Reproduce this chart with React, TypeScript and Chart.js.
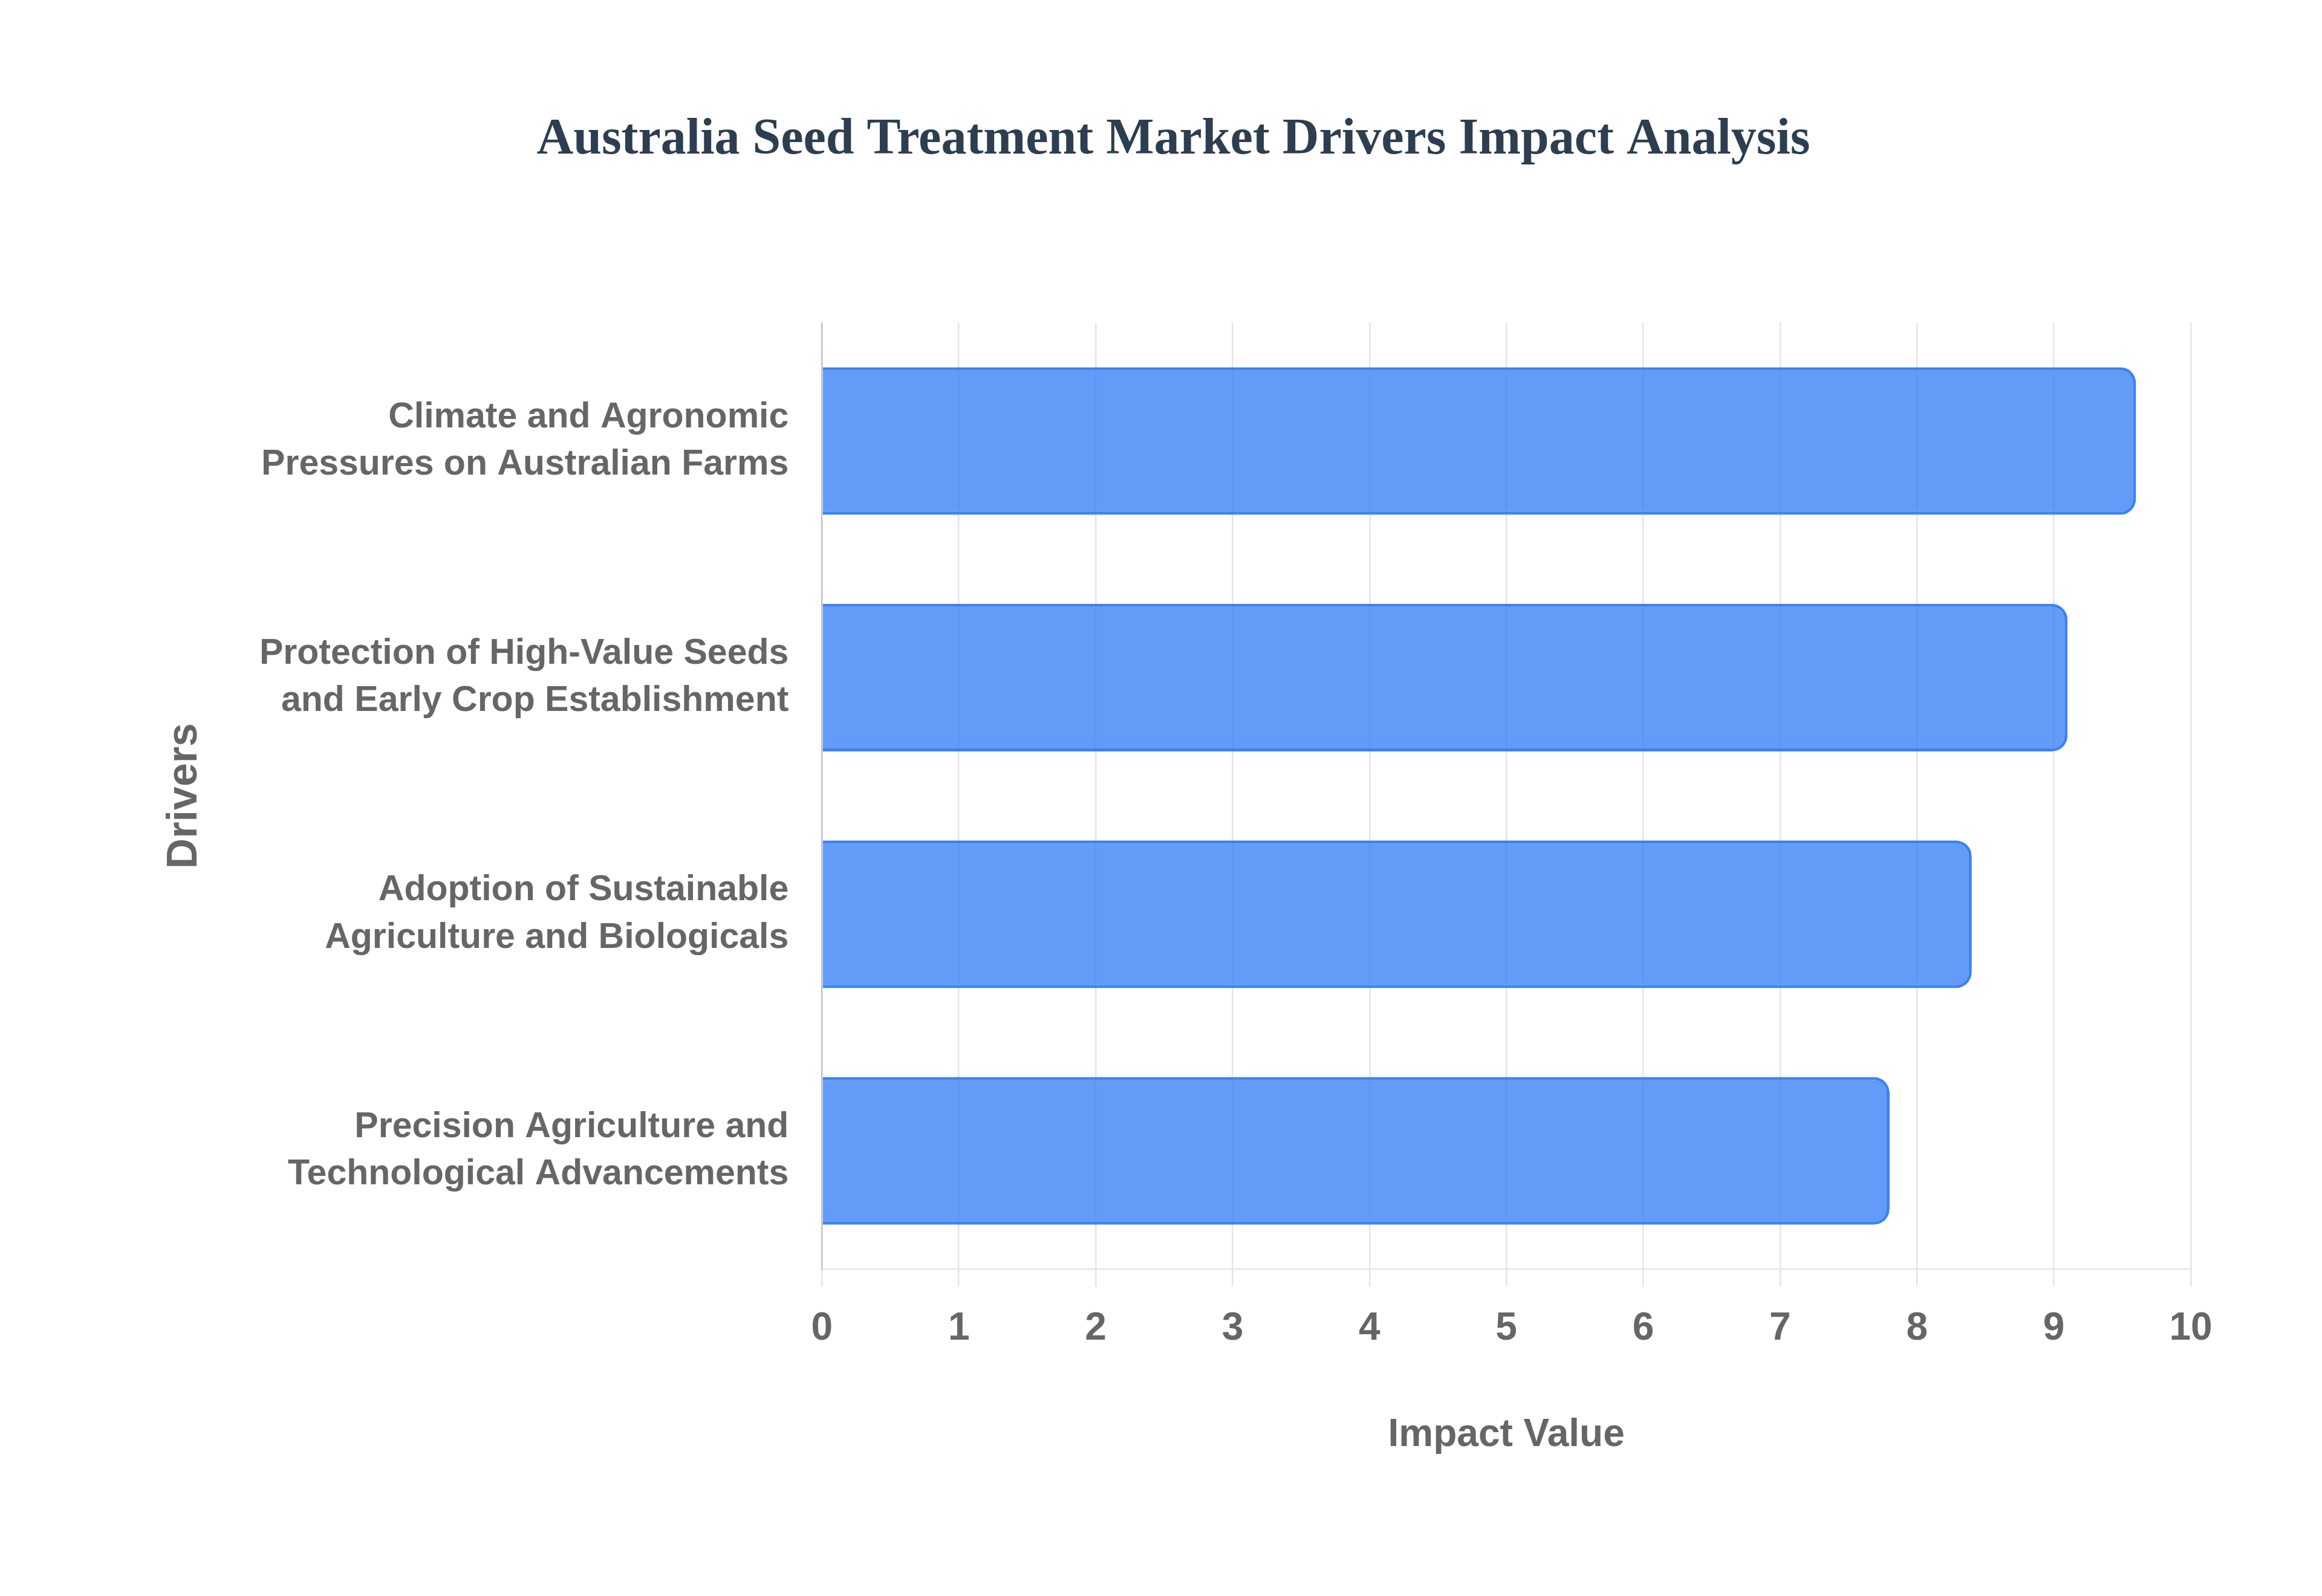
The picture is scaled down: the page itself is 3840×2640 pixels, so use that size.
import React, { useRef, useEffect } from 'react';
import { Chart, registerables } from 'chart.js';

Chart.register(...registerables);

// data
const drivers: string[][] = [
    ['Climate and Agronomic', 'Pressures on Australian Farms'],
    ['Protection of High-Value Seeds', 'and Early Crop Establishment'],
    ['Adoption of Sustainable', 'Agriculture and Biologicals'],
    ['Precision Agriculture and', 'Technological Advancements'],
];
const impactValues: number[] = [9.6, 9.1, 8.4, 7.8];
const axisMin = 0;
const axisMax = 10;

const chartTitle = 'Australia Seed Treatment Market Drivers Impact Analysis';
const xAxisTitle = 'Impact Value';
const yAxisTitle = 'Drivers';

const sansFamily = "'Liberation Sans', Arial, Helvetica, sans-serif";
const serifFamily = "'Liberation Serif', 'Times New Roman', serif";

const DriversImpactChart = () => {
    const chartRef = useRef<HTMLCanvasElement>(null);
    const chartInstanceRef = useRef<Chart | null>(null);

    useEffect(() => {
        document.body.style.margin = '0';
        if (chartRef.current && !chartInstanceRef.current) {
            const context = chartRef.current.getContext('2d');
            if (context) {
                chartInstanceRef.current = new Chart(context, {
                    type: 'bar',
                    data: {
                        labels: drivers,
                        datasets: [
                            {
                                label: 'Impact Value',
                                data: impactValues,
                                backgroundColor: 'rgba(59, 130, 246, 0.8)',
                                borderColor: '#3B82F6',
                                borderWidth: 5,
                                borderRadius: 26,
                                borderSkipped: 'start',
                                categoryPercentage: 0.8,
                                barPercentage: 0.78,
                            },
                        ],
                    },
                    options: {
                        indexAxis: 'y',
                        animation: false,
                        responsive: false,
                        devicePixelRatio: 1,
                        layout: {
                            padding: { top: 0, left: 258, right: 217, bottom: 227 },
                        },
                        scales: {
                            x: {
                                min: axisMin,
                                max: axisMax,
                                ticks: {
                                    stepSize: 1,
                                    color: '#666',
                                    padding: 32,
                                    font: { family: sansFamily, size: 64, weight: 'bold' },
                                },
                                grid: {
                                    color: 'rgba(0, 0, 0, 0.1)',
                                    lineWidth: 2.5,
                                    tickLength: 29,
                                },
                                border: { color: 'rgba(0, 0, 0, 0.1)', width: 2.5 },
                                title: {
                                    display: true,
                                    text: xAxisTitle,
                                    color: '#666',
                                    padding: { top: 67, bottom: 0 },
                                    font: { family: sansFamily, size: 64, weight: 'bold' },
                                },
                            },
                            y: {
                                ticks: {
                                    color: '#666',
                                    padding: 55,
                                    font: { family: sansFamily, size: 59, weight: 'bold', lineHeight: 1.33 },
                                },
                                grid: { display: false, drawTicks: false },
                                border: { display: true, color: 'rgba(0, 0, 0, 0.15)', width: 2.5 },
                                title: {
                                    display: true,
                                    text: yAxisTitle,
                                    color: '#666',
                                    padding: { top: 6, bottom: 26 },
                                    font: { family: sansFamily, size: 70, weight: 'bold' },
                                },
                            },
                        },
                        plugins: {
                            legend: { display: false },
                            tooltip: { enabled: false },
                            title: {
                                display: true,
                                text: chartTitle,
                                color: '#2c3e50',
                                padding: { top: 182, bottom: 251 },
                                font: { family: serifFamily, size: 84, weight: 'bold' },
                            },
                        },
                    },
                });
            }
        }

        return () => {
            if (chartInstanceRef.current) {
                chartInstanceRef.current.destroy();
                chartInstanceRef.current = null;
            }
        };
    }, []);

    return (
        <div style={{ width: 3840, height: 2640, background: '#fff' }}>
            <canvas ref={chartRef} width={3840} height={2640} style={{ display: 'block' }} />
        </div>
    );
};

export default function App() {
    return <DriversImpactChart />;
}
